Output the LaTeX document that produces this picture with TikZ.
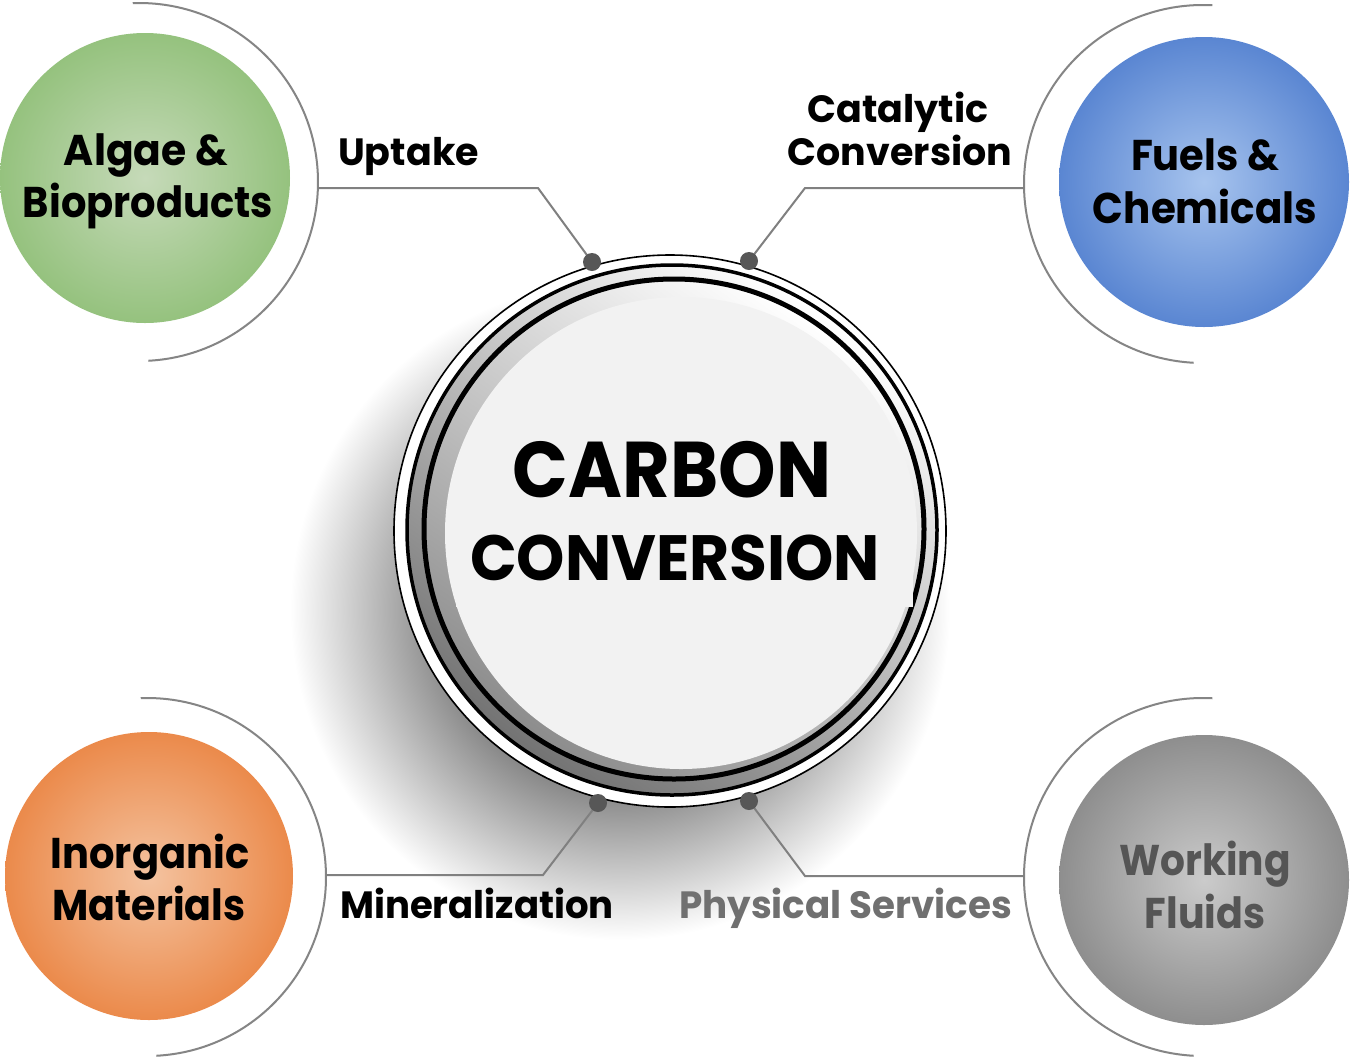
\documentclass[tikz,border=0pt]{standalone}
\usepackage{graphicx}
\usepackage{fontspec}
\setmainfont{Poppins}
\newcommand{\hsc}[2]{\scalebox{#1}[1]{#2}}
\definecolor{gcen}{HTML}{C6DAB9}
\definecolor{gedge}{HTML}{95C27E}
\definecolor{bcen}{HTML}{A7C4EE}
\definecolor{bedge}{HTML}{5A86D2}
\definecolor{ocen}{HTML}{F4C3A0}
\definecolor{oedge}{HTML}{EB8A4B}
\definecolor{wcen}{HTML}{CBCBCB}
\definecolor{wedge}{HTML}{8E8E8E}
\definecolor{shd}{HTML}{8A8A8A}
\definecolor{arcgray}{HTML}{858585}
\definecolor{linkgray}{HTML}{808080}
\definecolor{dotgray}{HTML}{575757}
\definecolor{discgray}{HTML}{F2F2F2}
\definecolor{wftext}{HTML}{555555}
\definecolor{pstext}{HTML}{707070}
\pgfdeclareradialshading{ballG}{\pgfpoint{0bp}{0bp}}{color(0bp)=(gcen); color(25bp)=(gedge); color(50bp)=(gedge)}
\pgfdeclareradialshading{ballB}{\pgfpoint{0bp}{0bp}}{color(0bp)=(bcen); color(25bp)=(bedge); color(50bp)=(bedge)}
\pgfdeclareradialshading{ballO}{\pgfpoint{0bp}{0bp}}{color(0bp)=(ocen); color(25bp)=(oedge); color(50bp)=(oedge)}
\pgfdeclareradialshading{ballW}{\pgfpoint{0bp}{0bp}}{color(0bp)=(wcen); color(25bp)=(wedge); color(50bp)=(wedge)}
\pgfdeclareradialshading{dropshadow}{\pgfpoint{0bp}{0bp}}{color(0bp)=(shd); color(14bp)=(shd); color(25bp)=(white); color(50bp)=(white)}
\tikzset{
  ball/.style={circle, inner sep=0pt, minimum size=290pt},
  ballTxt/.style={font=\fontsize{43}{50}\selectfont\bfseries, inner sep=0pt, anchor=base},
  linkTxt/.style={font=\fontsize{38}{44}\selectfont\bfseries, inner sep=0pt},
  bigTxt/.style={font=\fontsize{79}{90}\selectfont\bfseries, inner sep=0pt, anchor=base},
  midTxt/.style={font=\fontsize{64}{72}\selectfont\bfseries, inner sep=0pt, anchor=base},
  sidearc/.style={draw=arcgray, line width=2pt},
  link/.style={draw=linkgray, line width=2pt},
  dotnode/.style={circle, fill=dotgray, inner sep=0pt, minimum size=18pt},
}
\begin{document}
\begin{tikzpicture}[x=1pt,y=-1pt]
\useasboundingbox (0,0) rectangle (1350,1061);
\fill[white] (0,0) rectangle (1350,1061);
% drop shadow
\shade[shading=dropshadow] (620,610) circle[radius=330];
% center button rings
\filldraw[fill=white, draw=black, line width=1.6pt] (670,531) circle[radius=276];
\shade[top color=white, bottom color=black!55, shading angle=-35] (672,530) circle[radius=265];
\draw[black, line width=3.5pt] (672,530) circle[radius=265];
\shade[top color=white, bottom color=black!45, shading angle=-35] (674,529) circle[radius=250];
\draw[black, line width=5pt] (674,529) circle[radius=250];
\fill[discgray] (681,533) circle[radius=236];
\fill[discgray] (456,534) rectangle (913,607);
\node[bigTxt] (carbon) at (672,497) {\hsc{0.926}{CARBON}};
\node[midTxt] (conversion) at (675,580) {\hsc{0.96}{CONVERSION}};
% side arcs
\draw[sidearc] (139,182) ++(-92:179) arc[start angle=-92, end angle=87, radius=179];
\draw[sidearc] (1203,184) ++(93:179) arc[start angle=93, end angle=273, radius=179];
\draw[sidearc] (147,877) ++(-92:179) arc[start angle=-92, end angle=87, radius=179];
\draw[sidearc] (1203,877) ++(93:179) arc[start angle=93, end angle=273, radius=179];
% connector points
\coordinate (aUL) at (318,188); \coordinate (bUL) at (538,188); \coordinate (dUL) at (592,262);
\coordinate (aUR) at (1024,188); \coordinate (bUR) at (805,188); \coordinate (dUR) at (749,261);
\coordinate (aLL) at (326,875); \coordinate (bLL) at (543,875); \coordinate (dLL) at (598,803);
\coordinate (aLR) at (1024,876); \coordinate (bLR) at (805,876); \coordinate (dLR) at (749,801);
\draw[link] (aUL) -- (bUL) -- (dUL);
\draw[link] (aUR) -- (bUR) -- (dUR);
\draw[link] (aLL) -- (bLL) -- (dLL);
\draw[link] (aLR) -- (bLR) -- (dLR);
\node[dotnode] (dotUL) at (dUL) {};
\node[dotnode] (dotUR) at (dUR) {};
\node[dotnode] (dotLL) at (dLL) {};
\node[dotnode] (dotLR) at (dLR) {};
% balls
\node[ball, shading=ballG] (algae) at (145,178) {};
\node[ball, shading=ballB] (fuels) at (1204,182) {};
\node[ball, shading=ballO, minimum size=288pt] (inorg) at (149,876) {};
\node[ball, shading=ballW] (fluids) at (1204,880) {};
% ball texts
\node[ballTxt] (t1a) at (146,165) {\hsc{0.95}{Algae \&}};
\node[ballTxt] (t1b) at (148,217) {\hsc{0.93}{Bioproducts}};
\node[ballTxt] (t2a) at (1205,170) {\hsc{0.93}{Fuels \&}};
\node[ballTxt] (t2b) at (1205,223) {\hsc{0.94}{Chemicals}};
\node[ballTxt] (t3a) at (150,868) {\hsc{0.93}{Inorganic}};
\node[ballTxt] (t3b) at (149,920) {\hsc{0.92}{Materials}};
\node[ballTxt, text=wftext] (t4a) at (1205,875) {\hsc{0.91}{Working}};
\node[ballTxt, text=wftext] (t4b) at (1205,928) {\hsc{0.92}{Fluids}};
% link texts
\node[linkTxt, anchor=base west] (l1) at (338,165) {Uptake};
\node[linkTxt, anchor=base] (l2a) at (898,122) {Catalytic};
\node[linkTxt, anchor=base] (l2b) at (900,165) {Conversion};
\node[linkTxt, anchor=base west] (l3) at (340,918) {\hsc{0.975}{Mineralization}};
\node[linkTxt, anchor=base east, text=pstext] (l4) at (1012,918) {\hsc{0.98}{Physical Services}};
\end{tikzpicture}
\end{document}
